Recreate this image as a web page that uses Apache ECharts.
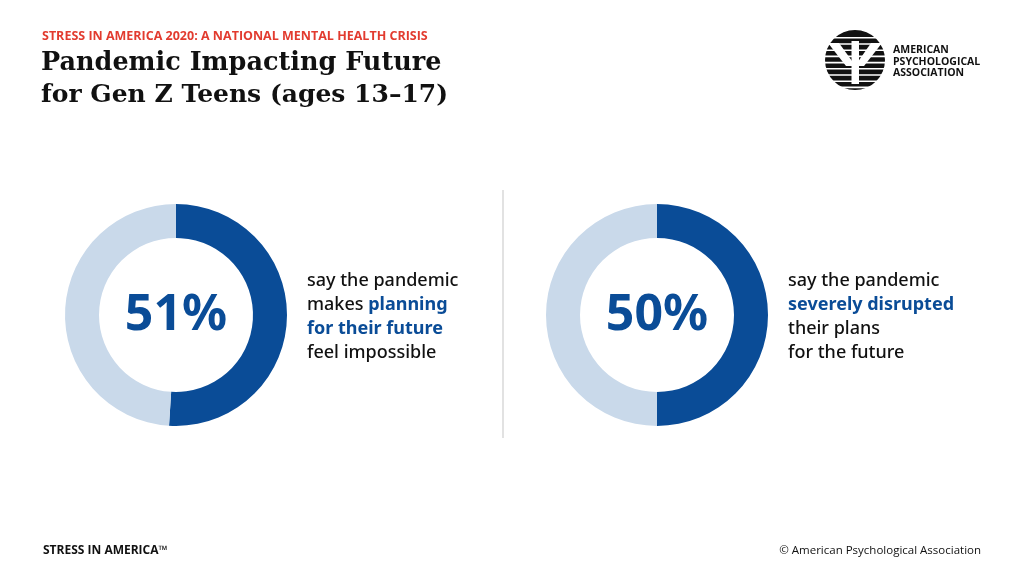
<!DOCTYPE html>
<html>
<head>
<meta charset="utf-8">
<script src="https://cdn.jsdelivr.net/npm/echarts@6/dist/echarts.min.js"></script>
<style>
html,body{margin:0;padding:0;background:#fff;}
#chart{width:1024px;height:576px;}
</style>
</head>
<body>
<div id="chart"></div>
<script>
// ---- data ----
const kicker = "STRESS IN AMERICA 2020: A NATIONAL MENTAL HEALTH CRISIS";
const titleLines = ["Pandemic Impacting Future", "for Gen Z Teens (ages 13\u201317)"];
const percents = [51, 50];
const captions = [
  ["say the pandemic", "makes {b|planning}", "{b|for their future}", "feel impossible"],
  ["say the pandemic", "{b|severely disrupted}", "their plans", "for the future"]
];
const footerLeft = "STRESS IN AMERICA\u2122";
const footerRight = "\u00a9 American Psychological Association";
const logoLines = ["AMERICAN", "PSYCHOLOGICAL", "ASSOCIATION"];

const DARK = "#0a4c97";
const LIGHT = "#c9d9ea";
const centers = [[176, 315], [657, 315]];

const chart = echarts.init(document.getElementById('chart'), null, {renderer: 'canvas'});

const series = percents.map((p, i) => ({
  type: 'pie',
  center: centers[i],
  radius: [77, 111],
  startAngle: 90,
  clockwise: true,
  silent: true,
  label: {show: false},
  labelLine: {show: false},
  itemStyle: {borderWidth: 0},
  emphasis: {disabled: true},
  data: [
    {value: p, itemStyle: {color: DARK}},
    {value: 100 - p, itemStyle: {color: LIGHT}}
  ]
}));

// logo
const LX = 855, LY = 60, LR = 30;
const logo = [];
logo.push({type: 'circle', shape: {cx: LX, cy: LY, r: LR}, style: {fill: '#111'}});
for (let y = 37; y < 92; y += 6.2) {
  logo.push({type: 'rect', shape: {x: LX - LR - 2, y: y, width: 2 * LR + 4, height: 1.6}, style: {fill: '#fff'}});
}
logo.push({type: 'rect', shape: {x: 851.5, y: 41, width: 7.5, height: 43}, style: {fill: '#fff'}});
logo.push({type: 'polygon', shape: {points: [[828, 43], [839, 43], [852, 61], [852, 66], [846, 66]]}, style: {fill: '#fff'}});
logo.push({type: 'polygon', shape: {points: [[882, 43], [871, 43], [858.5, 61], [858.5, 66], [864, 66]]}, style: {fill: '#fff'}});
logoLines.forEach((t, i) => {
  logo.push({type: 'text', x: 893, y: 50 + i * 11.7, style: {text: t, font: 'bold 10.5px "Open Sans"', fill: '#111', verticalAlign: 'middle'}});
});

const graphics = [
  {type: 'text', x: 42, y: 36, style: {text: kicker, font: 'bold 12.5px "Open Sans"', fill: '#e23b2f', verticalAlign: 'middle'}},
  {type: 'text', x: 41, y: 63, style: {text: titleLines[0], font: 'bold 25.5px "DejaVu Serif"', fill: '#111', verticalAlign: 'middle'}},
  {type: 'text', x: 41, y: 95, style: {text: titleLines[1], font: 'bold 25px "DejaVu Serif"', fill: '#111', verticalAlign: 'middle'}},
  {type: 'rect', shape: {x: 502, y: 190, width: 2, height: 248}, style: {fill: '#e2e2e2'}},
  {type: 'text', x: 43, y: 551, style: {text: footerLeft, font: 'bold 12px "Open Sans"', fill: '#111', verticalAlign: 'middle', letterSpacing: 0.6}},
  {type: 'text', x: 981, y: 551, style: {text: footerRight, font: '11.5px "Open Sans"', fill: '#111', align: 'right', verticalAlign: 'middle'}}
].concat(logo);

percents.forEach((p, i) => {
  graphics.push({type: 'text', x: centers[i][0], y: centers[i][1] + 1, style: {
    text: p + '%', font: 'bold 50px "Noto Sans"', fill: DARK, align: 'center', verticalAlign: 'middle'}});
  graphics.push({type: 'text', x: centers[i][0] + 131, y: 269, style: {
    text: captions[i].join('\n'), font: '500 18px "Noto Sans"', fill: '#111', lineHeight: 24,
    rich: {b: {font: 'bold 18px "Noto Sans"', fill: DARK, lineHeight: 24}}
  }});
});

chart.setOption({
  animation: false,
  series: series,
  graphic: graphics
});
</script>
</body>
</html>
